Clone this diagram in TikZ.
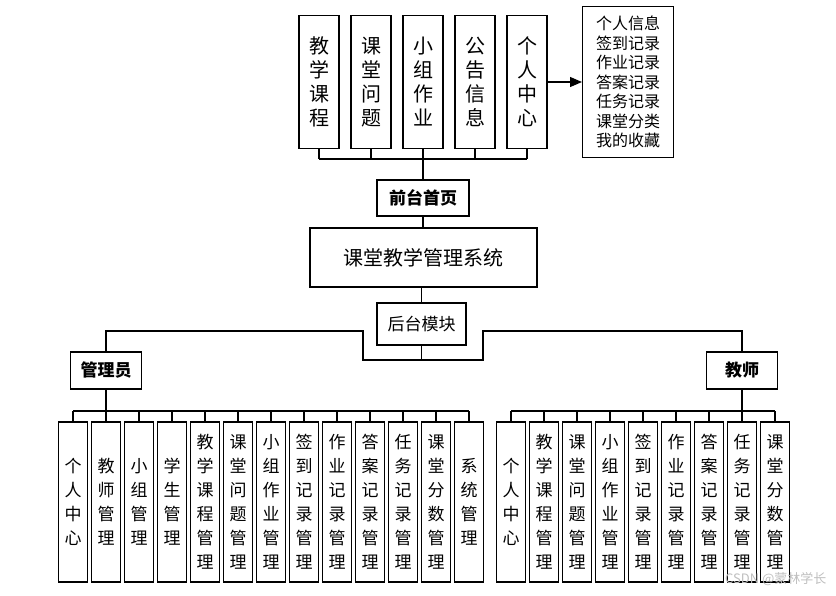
\documentclass[tikz,border=0pt]{standalone}
\usepackage{fontspec}
\setmainfont{Noto Sans CJK SC}
\usetikzlibrary{arrows.meta}
\begin{document}
\begin{tikzpicture}[x=1pt,y=-1pt,
  box/.style={draw,line width=1.3pt,inner sep=0pt,align=center},
  vtop/.style={box,minimum width=40pt,minimum height=133pt,font=\fontsize{20}{24}\selectfont},
  vbot/.style={box,minimum width=29pt,minimum height=160pt,font=\fontsize{17}{24}\selectfont},
  hbox/.style={box,font=\fontsize{17}{20}\selectfont},
  ln/.style={line width=1.2pt},
  thk/.style={line width=2.6pt}]
\useasboundingbox (0,0) rectangle (836,595);
% top
\node[vtop] (t1) at (319,82) {教\\学\\课\\程};
\node[vtop] (t2) at (371,82) {课\\堂\\问\\题};
\node[vtop] (t3) at (423,82) {小\\组\\作\\业};
\node[vtop] (t4) at (475,82) {公\\告\\信\\息};
\node[vtop] (t5) at (527,82) {个\\人\\中\\心};
\node[box,minimum width=91pt,minimum height=151pt,anchor=north west,font=\fontsize{16}{19.5}\selectfont,align=left] (list) at (582,6) {个人信息\\签到记录\\作业记录\\答案记录\\任务记录\\课堂分类\\我的收藏};
\node[hbox,minimum width=92pt,minimum height=36pt,font=\fontsize{17}{20}\selectfont\bfseries] (qt) at (423,198) {前台首页};
\node[hbox,minimum width=227pt,minimum height=59pt,font=\fontsize{20}{22}\selectfont] (sys) at (423.5,257.5) {课堂教学管理系统};
\node[hbox,minimum width=89pt,minimum height=42pt] (ht) at (421.5,324) {后台模块};
\node[hbox,minimum width=71pt,minimum height=37pt,font=\fontsize{17}{20}\selectfont\bfseries] (mgr) at (106,370.5) {管理员};
\node[hbox,minimum width=71pt,minimum height=37pt,font=\fontsize{17}{20}\selectfont\bfseries] (tea) at (742,370.5) {教师};
\coordinate (tb) at (0,159);
\foreach \i in {1,...,5} \draw[ln] (t\i.south) -- (t\i.south |- tb);
\draw[ln] (t1.south |- tb) -- (t5.south |- tb);
\draw[ln] (qt.north) -- (qt.north |- tb);
\draw[ln] (qt.south) -- (sys.north -| qt.south);
\draw[-{Triangle[length=12pt,width=10pt]},ln] (t5.east) -- (t5.east -| list.west);
\draw[ln] (sys.south -| ht.north) -- (ht.north);
\coordinate (hl) at (363,360); \coordinate (hr) at (483,360);
\draw[ln] (ht.south) -- (ht.south |- hl);
\draw[ln] (mgr.north) |- (363,331) -- (hl) -- (hr) -- (483,331) -| (tea.north);
% admin
\coordinate (ba) at (0,411);
\foreach \t [count=\i] in {{个\\人\\中\\心},{教\\师\\管\\理},{小\\组\\管\\理},{学\\生\\管\\理},{教\\学\\课\\程\\管\\理},{课\\堂\\问\\题\\管\\理},{小\\组\\作\\业\\管\\理},{签\\到\\记\\录\\管\\理},{作\\业\\记\\录\\管\\理},{答\\案\\记\\录\\管\\理},{任\\务\\记\\录\\管\\理},{课\\堂\\分\\数\\管\\理},{系\\统\\管\\理}}{
  \node[vbot] (a\i) at ({40+33*\i},502) {\t};
  \draw[ln] (a\i.north) -- (a\i.north |- ba);
}
\draw[ln] (a1.north |- ba) -- (a13.north |- ba);
\draw[thk] (mgr.south) -- (mgr.south |- ba) -- (a13.north |- ba);
\foreach \t [count=\i] in {{个\\人\\中\\心},{教\\学\\课\\程\\管\\理},{课\\堂\\问\\题\\管\\理},{小\\组\\作\\业\\管\\理},{签\\到\\记\\录\\管\\理},{作\\业\\记\\录\\管\\理},{答\\案\\记\\录\\管\\理},{任\\务\\记\\录\\管\\理},{课\\堂\\分\\数\\管\\理}}{
  \node[vbot] (b\i) at ({478+33*\i},502) {\t};
  \draw[ln] (b\i.north) -- (b\i.north |- ba);
}
\draw[ln] (b1.north |- ba) -- (b9.north |- ba);
\draw[thk] (tea.south) -- (tea.south |- ba) -- (b1.north |- ba);
\node[text=black!25,font=\fontsize{13}{14}\selectfont,anchor=east] (wm) at (830,579) {CSDN @蒙林学长};
\end{tikzpicture}
\end{document}
